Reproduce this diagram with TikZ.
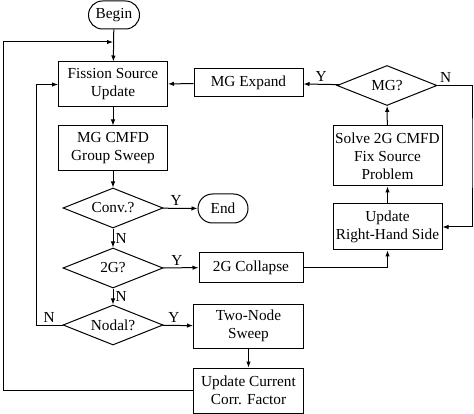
\documentclass[tikz,border=0pt]{standalone}
\usepackage{fontspec}
\setmainfont{Liberation Serif}
\usetikzlibrary{shapes.geometric,shapes.misc,arrows.meta}

\tikzstyle{procbox} = [rectangle, draw, line width=1pt, align=center, inner sep=0pt, minimum width=109pt, minimum height=45pt, font=\fontsize{15.3}{18}\selectfont]
\tikzstyle{decide} = [diamond, draw, line width=1pt, aspect=2.5, inner sep=0pt, minimum width=100pt, minimum height=40pt, font=\fontsize{15.3}{18}\selectfont]
\tikzstyle{terminal} = [rounded rectangle, draw, line width=1pt, inner sep=0pt, minimum width=51pt, minimum height=28pt, font=\fontsize{15.3}{18}\selectfont]
\tikzstyle{flow} = [line width=1pt, -{Latex[length=6pt,width=4.5pt]}]
\tikzstyle{yn} = [font=\fontsize{15.3}{18}\selectfont, inner sep=2pt]

\begin{document}
\begin{tikzpicture}[x=1pt, y=-1pt]
  \useasboundingbox (0, 0) rectangle (474, 414);
  \node[terminal] (begin) at (114, 15) {Begin};
  \node[procbox] (fsu) at (113, 84.5) {Fission Source\\Update};
  \node[procbox] (sweep) at (113, 148.5) {MG CMFD\\Group Sweep};
  \node[decide] (conv) at (113, 208) {Conv.?};
  \node[decide] (twog) at (113, 268) {2G?};
  \node[decide] (nodal) at (113, 325) {Nodal?};
  \node[terminal, minimum width=50pt, minimum height=29pt] (endn) at (223, 208.5) {End};
  \node[procbox, minimum width=104pt, minimum height=29pt] (collapse) at (251, 267.5) {2G Collapse};
  \node[procbox, minimum width=110pt, minimum height=44pt] (twonode) at (248.5, 326) {Two-Node\\Sweep};
  \node[procbox, minimum width=110pt] (corr) at (248.5, 390.5) {Update Current\\Corr. Factor};
  \node[procbox, minimum height=46pt] (rhs) at (387.5, 227) {Update\\Right-Hand Side};
  \node[procbox, minimum height=60pt] (solve) at (387.5, 156) {Solve 2G CMFD\\Fix Source\\Problem};
  \node[decide] (mgq) at (387, 85.5) {MG?};
  \node[procbox, minimum height=28pt] (expand) at (248.5, 83) {MG Expand};
  \coordinate (join) at (113, 42);
  \coordinate (outer) at (3, 42);
  \coordinate (inner) at (36, 200);
  \coordinate (rim) at (472, 150);

  \draw[flow] (begin) -- (fsu);
  \draw[flow] (fsu) -- (sweep);
  \draw[flow] (sweep) -- (conv);
  \draw[flow] (conv) -- node[yn, right] (n1) {N} (twog);
  \draw[flow] (twog) -- node[yn, right] (n2) {N} (nodal);
  \draw[flow] (conv) -- node[yn, above, xshift=-4pt] (y1) {Y} (endn);
  \draw[flow] (twog) -- node[yn, above, xshift=-4pt] (y2) {Y} (collapse);
  \draw[flow] (nodal) -- node[yn, above, xshift=-4pt] (y3) {Y} (twonode);
  \draw[flow] (twonode) -- (corr);
  \draw[flow] (nodal.west) -- node[yn, above] (n3) {N} (nodal.west -| inner) |- (fsu.west);
  \draw[flow] (corr.west) -| (outer) -- (join);
  \draw[flow] (collapse.east) -| (rhs.south);
  \draw[flow] (rhs) -- (solve);
  \draw[flow] (solve) -- (mgq);
  \draw[flow] (mgq.east) node[yn, above right] (n4) {N} -| (rim) |- (rhs.east);
  \draw[flow] (mgq) -- node[yn, above] (y4) {Y} (expand);
  \draw[flow] (expand) -- (fsu);
\end{tikzpicture}
\end{document}
